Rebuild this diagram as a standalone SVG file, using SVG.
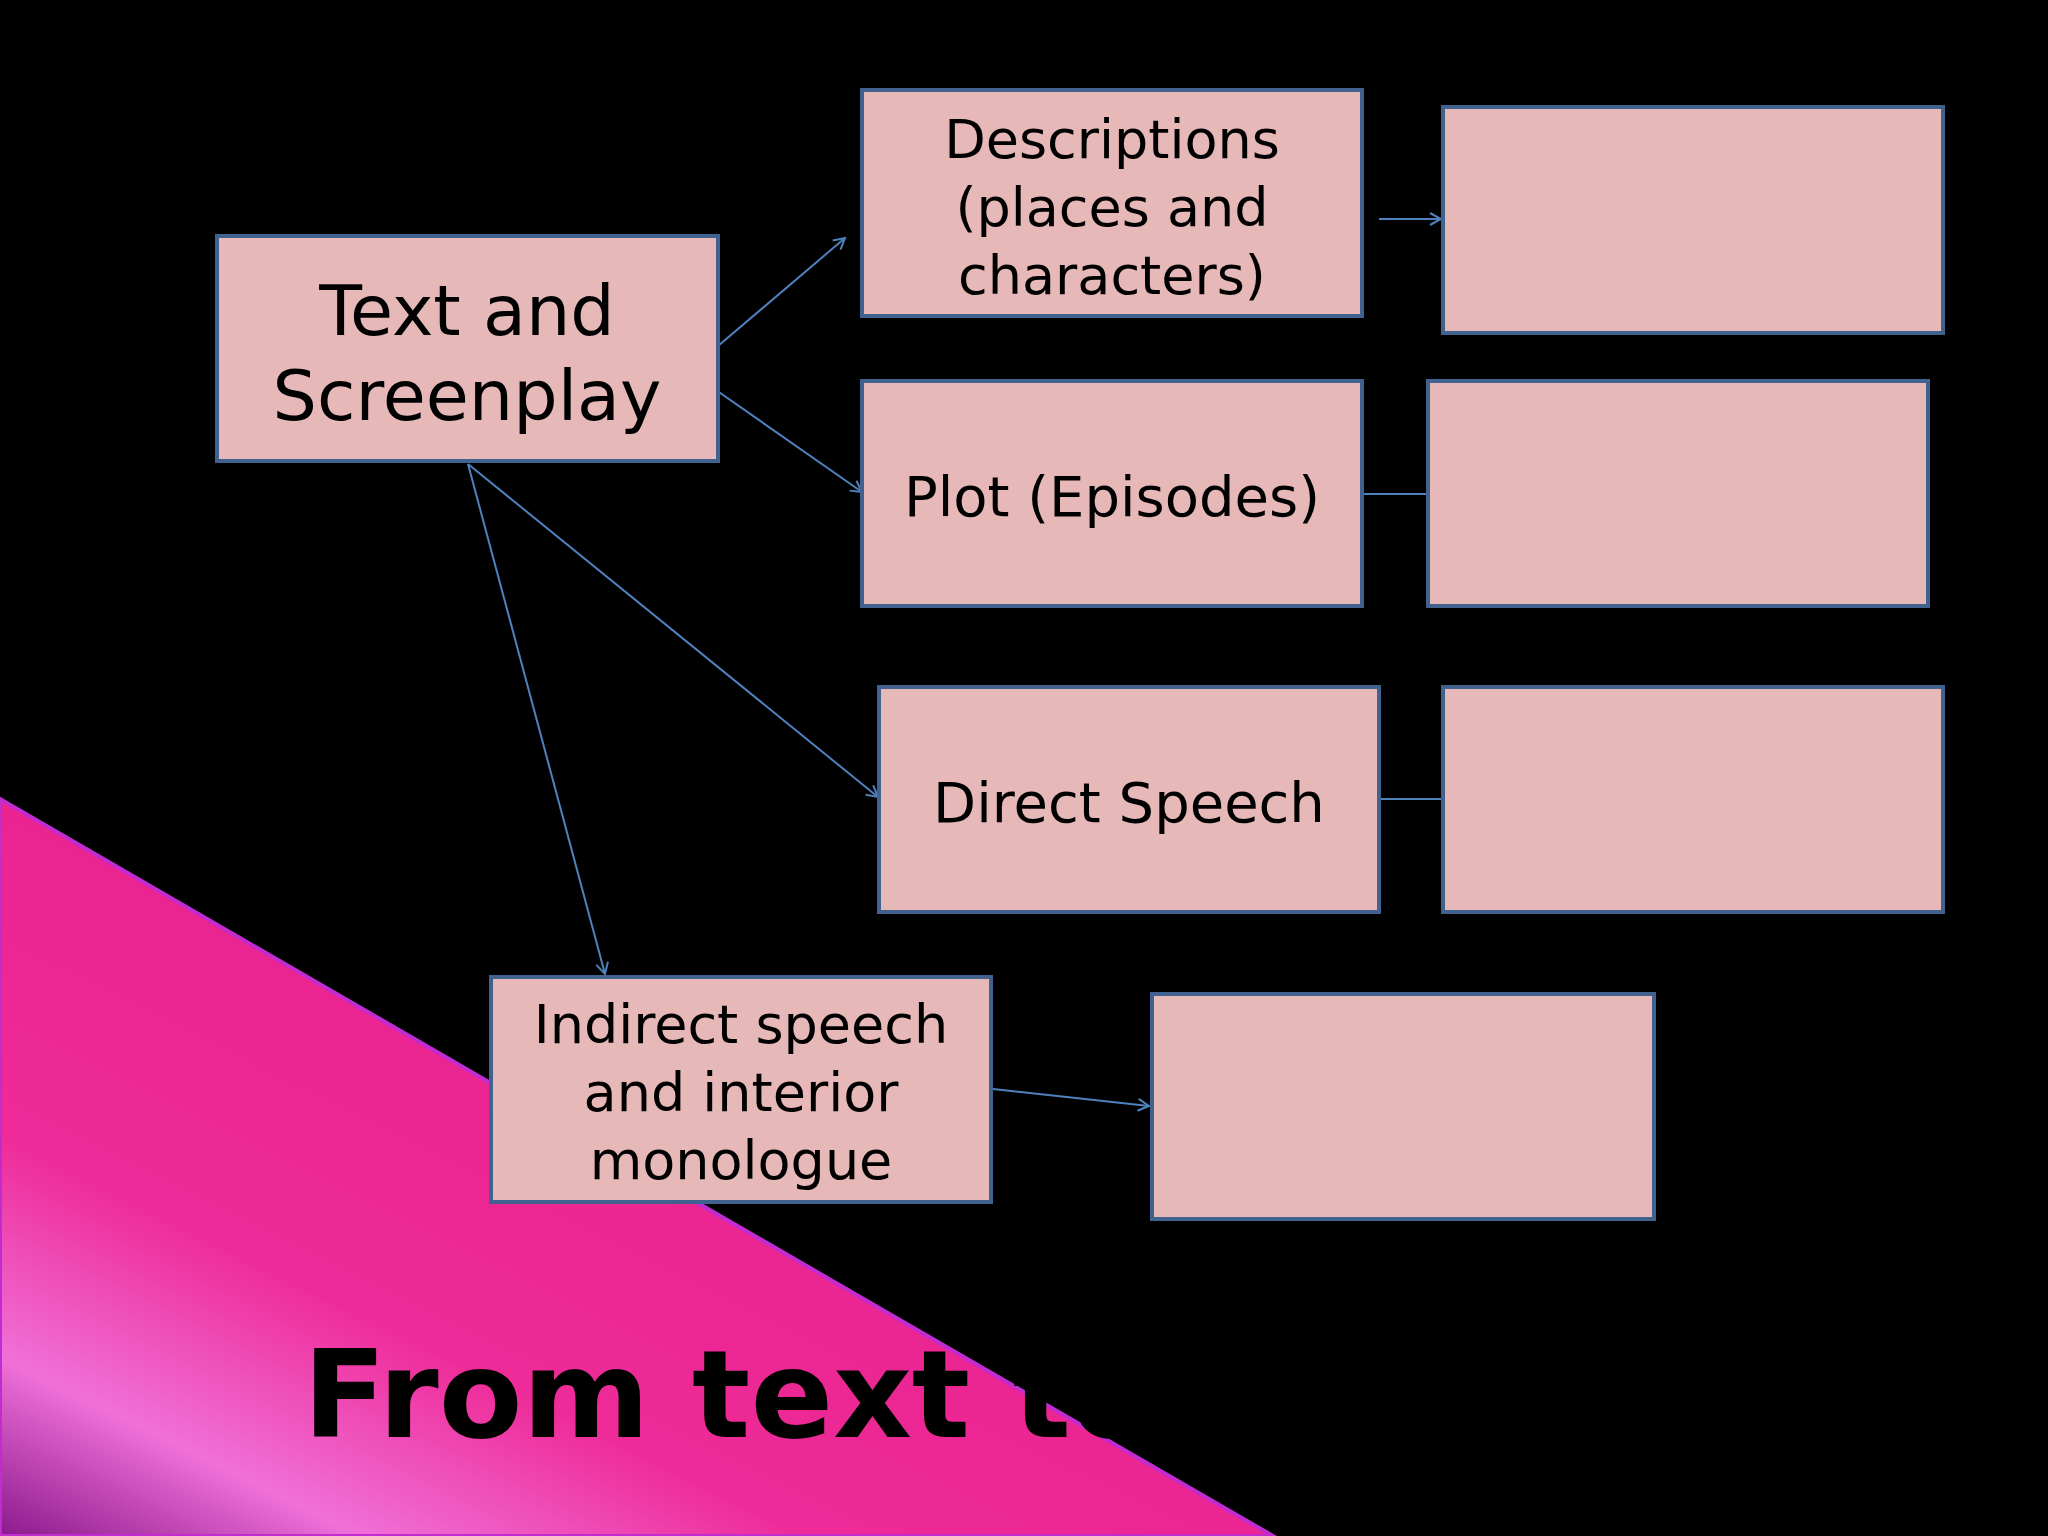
<svg xmlns="http://www.w3.org/2000/svg" width="2048" height="1536" viewBox="0 0 2048 1536">
<style>
.box{fill:#e6b8b7;stroke:#41628f;stroke-width:4}
.t{font-family:"DejaVu Sans",sans-serif;fill:#000;text-anchor:middle}
.c{stroke:#4f81bd;stroke-width:2;fill:none;marker-end:url(#a)}
</style>
<defs>
<marker id="a" markerWidth="14" markerHeight="14" refX="12" refY="7" orient="auto" markerUnits="userSpaceOnUse">
<path d="M1,1 L12,7 L1,13" fill="none" stroke="#4f81bd" stroke-width="2"/>
</marker>
<linearGradient id="g" x1="0" y1="1" x2="0.6" y2="0.3">
<stop offset="0" stop-color="#8a1a8c"/>
<stop offset="0.2" stop-color="#f070d8"/>
<stop offset="0.45" stop-color="#ee2b98"/>
<stop offset="1" stop-color="#e8208c"/>
</linearGradient>
</defs>
<rect width="2048" height="1536" fill="#000"/>
<polygon points="0,799 1273,1536 0,1536" fill="url(#g)" stroke="#c02cd0" stroke-width="4"/>
<text x="303" y="1437" font-family="DejaVu Sans,sans-serif" font-weight="bold" font-size="122" fill="#000">From text to screen</text>
<g id="connectors">
<line class="c" x1="718" y1="346" x2="845" y2="238"/>
<line class="c" x1="703" y1="381" x2="862" y2="492"/>
<line class="c" x1="468" y1="464" x2="878" y2="797"/>
<line class="c" x1="468" y1="464" x2="605" y2="974"/>
<line class="c" x1="1379" y1="219" x2="1441" y2="219"/>
<line class="c" x1="1362" y1="494" x2="1458" y2="494"/>
<line class="c" x1="1379" y1="799" x2="1489" y2="799"/>
<line class="c" x1="993" y1="1089" x2="1149" y2="1106"/>
</g>
<g id="n1"><rect class="box" x="217" y="236" width="501" height="225"/>
<text class="t" font-size="70" x="467" y="335">Text and</text><text class="t" font-size="70" x="467" y="420">Screenplay</text></g>
<g id="n2"><rect class="box" x="862" y="90" width="500" height="226"/>
<text class="t" font-size="54" x="1112" y="158">Descriptions</text><text class="t" font-size="54" x="1112" y="226">(places and</text><text class="t" font-size="54" x="1112" y="294">characters)</text></g>
<g id="n3"><rect class="box" x="1443" y="107" width="500" height="226"/></g>
<g id="n4"><rect class="box" x="862" y="381" width="500" height="225"/>
<text class="t" font-size="56" x="1112" y="516">Plot (Episodes)</text></g>
<g id="n5"><rect class="box" x="1428" y="381" width="500" height="225"/></g>
<g id="n6"><rect class="box" x="879" y="687" width="500" height="225"/>
<text class="t" font-size="56" x="1129" y="822">Direct Speech</text></g>
<g id="n7"><rect class="box" x="1443" y="687" width="500" height="225"/></g>
<g id="n8"><rect class="box" x="491" y="977" width="500" height="225"/>
<text class="t" font-size="54" x="741" y="1043">Indirect speech</text><text class="t" font-size="54" x="741" y="1111">and interior</text><text class="t" font-size="54" x="741" y="1179">monologue</text></g>
<g id="n9"><rect class="box" x="1152" y="994" width="502" height="225"/></g>
</svg>
